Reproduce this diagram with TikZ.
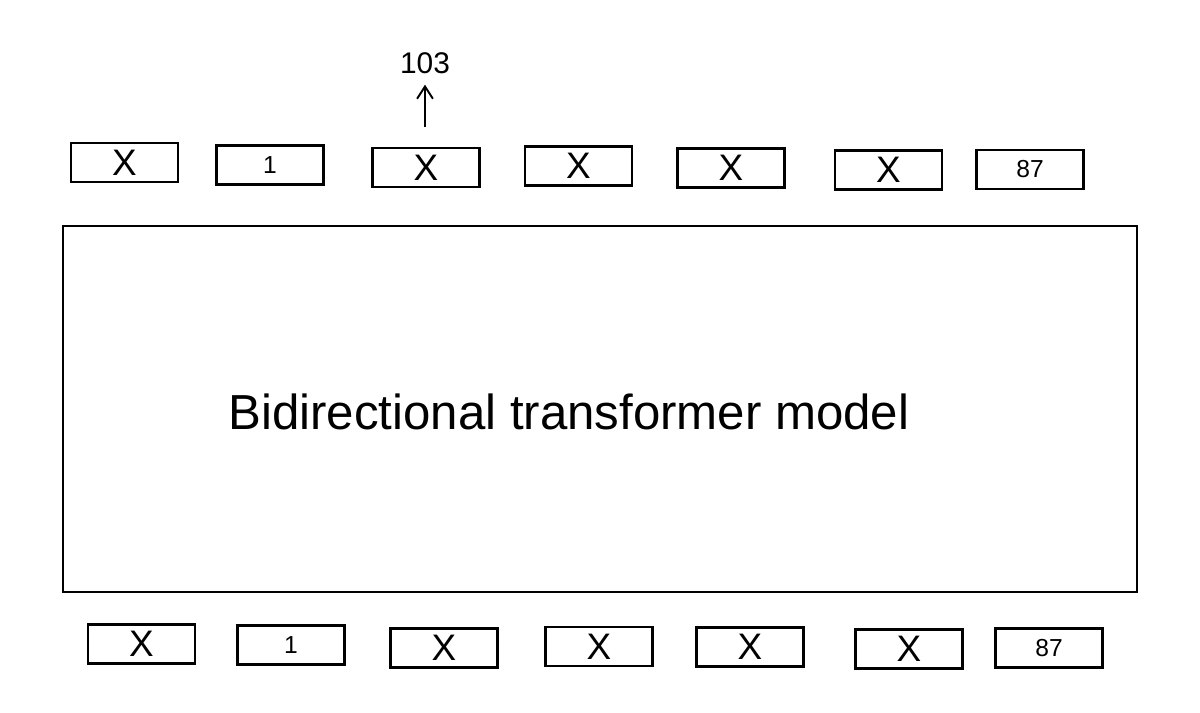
\documentclass[tikz,border=0pt]{standalone}
\usepackage{fontspec}
\setmainfont{Liberation Sans}
\usepackage{tikz}
\usetikzlibrary{arrows,arrows.meta,shapes}

\tikzset{
  tokbox/.style={draw=black,line width=1.3pt,minimum width=2.14cm,minimum height=0.78cm,inner sep=0pt},
  bigtok/.style={font=\fontsize{21}{24}\selectfont},
  smalltok/.style={font=\fontsize{14}{16}\selectfont}
}

\begin{document}
\begin{tikzpicture}[x=0.02cm,y=-0.02cm]
\useasboundingbox (0,0) rectangle (1200,713);
% model
\node[draw=black,line width=1.3pt,minimum width=21.48cm,minimum height=7.32cm] (model) at (600,409) {};
\node[font=\fontsize{28}{32}\selectfont] (title) at (569,412) {Bidirectional transformer model};
% output tokens
\foreach \x/\y/\lab/\st [count=\i] in {124.5/162.5/X/bigtok,270/165/1/smalltok,426/167.5/X/bigtok,
            578.5/166/X/bigtok,731/168/X/bigtok,888.5/170/X/bigtok,1030/169.5/87/smalltok}
            \node[tokbox,\st] (out\i) at (\x,\y) {\lab};
% input tokens
\foreach \x/\y/\lab/\st [count=\i] in {141.5/644/X/bigtok,291/645/1/smalltok,444/648/X/bigtok,
            599/646.5/X/bigtok,750/647/X/bigtok,909/649/X/bigtok,1049/648/87/smalltok}
            \node[tokbox,\st] (in\i) at (\x,\y) {\lab};
% prediction
\node[font=\fontsize{17}{20}\selectfont,inner sep=1pt] (pred) at (425,63) {103};
\draw[line width=1.1pt,-{Straight Barb[length=7pt,width=9pt]}]
            ([yshift=0.4cm]out3.north -| pred.south) -- ([yshift=-0.18cm]pred.south);
\end{tikzpicture}
\end{document}
